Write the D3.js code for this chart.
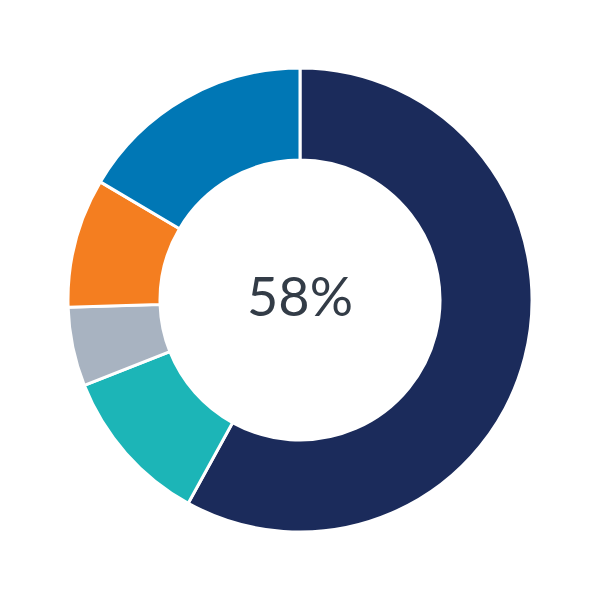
<!DOCTYPE html>
<html>
<head>
<meta charset="utf-8">
<script src="https://cdn.jsdelivr.net/npm/d3@7"></script>
<style>
  html, body { margin: 0; padding: 0; background: #fff; }
</style>
</head>
<body>
<svg id="chart" width="600" height="600"></svg>
<script>
// Slices, clockwise from 12 o'clock
let labels = ["A", "B", "C", "D", "E"];
let values = [58, 11, 5.5, 9, 16.5];
let colors = ["#1b2b5b", "#1cb5b7", "#a8b3c1", "#f47e20", "#0077b5"];
let centerLabel = "58%";

let width = 600,
  height = 600,
  outer = 232,
  inner = 140;

let svg = d3.select("#chart");
let g = svg.append("g").attr("transform", "translate(" + width / 2 + "," + height / 2 + ")");

let pie = d3.pie().sort(null).value((d) => d);
let arc = d3.arc().innerRadius(inner).outerRadius(outer);

let color = d3.scaleOrdinal().domain(labels).range(colors);

g.selectAll(".slice")
  .data(pie(values))
  .enter()
  .append("path")
  .attr("class", "slice")
  .attr("d", arc)
  .attr("fill", (d, i) => color(labels[i]))
  .attr("stroke", "#fff")
  .attr("stroke-width", 3)
  .attr("stroke-linejoin", "miter");

// Center percentage
g.append("text")
  .attr("y", 16)
  .attr("text-anchor", "middle")
  .attr("font-family", "Lato, 'Open Sans', sans-serif")
  .attr("font-size", 54)
  .attr("fill", "#333c47")
  .text(centerLabel);
</script>
</body>
</html>
